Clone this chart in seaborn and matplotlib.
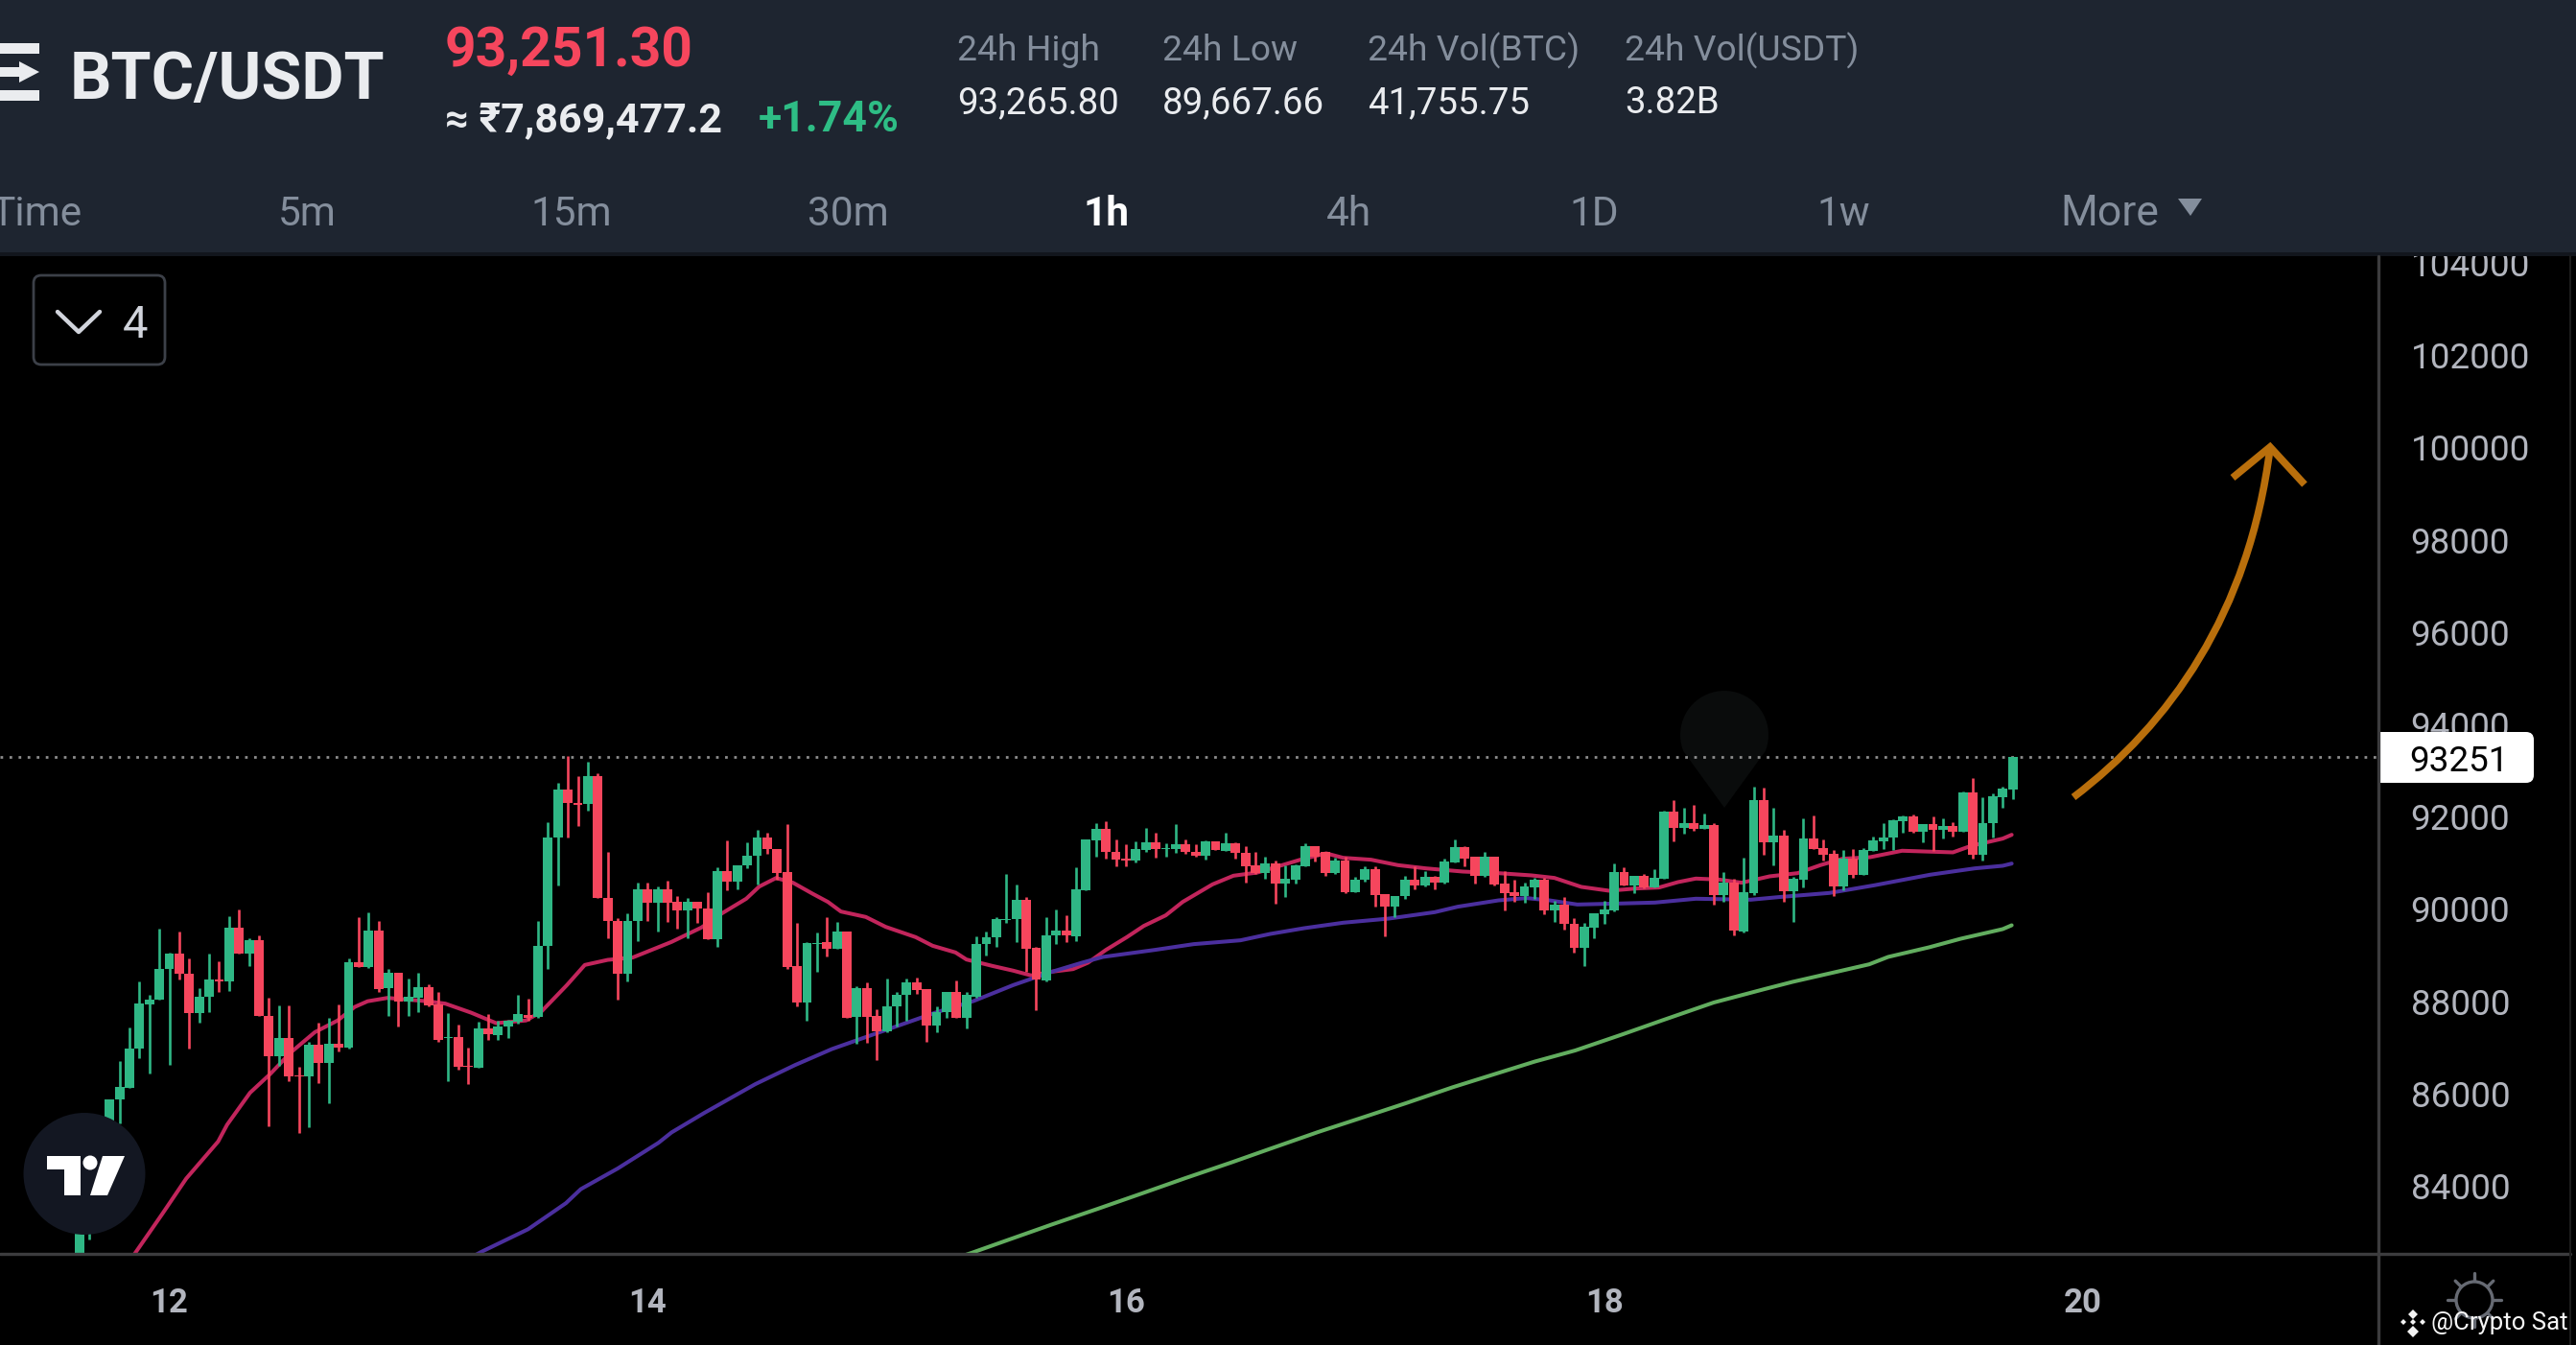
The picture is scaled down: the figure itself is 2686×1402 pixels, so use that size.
import numpy as np
import pandas as pd
import matplotlib
matplotlib.use("Agg")
import matplotlib.pyplot as plt
from matplotlib.patches import Ellipse, FancyBboxPatch, PathPatch, Polygon, Rectangle
from matplotlib.path import Path
from matplotlib.transforms import ScaledTranslation
import seaborn as sns

# ---------- data (USDT prices) ----------
open_ = [82300,82990,83580,84900,85837,86092,86931,87900,88002,88666,88994,88571,87704,88061,88440,88389,89555,88994,89293,87645,86785,87164,86362,86333,87018,86639,87040,86967,88812,88717,89497,88243,88593,87966,88039,88272,87893,87164,87186,86566,86523,87368,87237,87412,87529,87674,87631,89162,91509,92559,92267,92238,92850,90197,89701,88556,89716,90394,90109,90394,
90119,89938,90132,89966,89301,90777,90562,90922,91110,91505,91255,90756,88719,87936,89204,89245,89107,89467,87624,88248,87638,87312,87866,88095,88372,88227,87444,87728,88178,87610,88067,89197,89356,89724,89758,90160,89128,88421,89384,89495,89370,90375,91456,91699,91213,91054,91006,91241,91421,91262,91262,91366,91193,91123,91435,91227,91394,91186,90909,90742,90950,90521,90604,90895,91324,91193,90742,
91006,90327,90590,90826,90278,90015,90244,90590,90465,90659,90535,90978,91311,91089,90673,91103,90507,90327,90244,90437,90604,89939,90063,89634,89121,89564,89855,89925,90763,90479,90673,90431,90625,92073,91727,91817,91699,91782,90271,90535,89481,90313,92323,91401,91560,90354,90604,91491,91283,91158,90451,91054,90701,91228,91436,91519,91865,91962,91630,91796,91685,91754,91643,92489,91144,91824,92392,92558]
high = [83000,83700,84400,85100,86676,87405,88403,88112,89541,89030,89482,88899,88243,88994,88826,89810,89956,89322,89395,88039,87879,87879,86544,87091,87499,87601,87893,88885,89789,89891,89701,88666,88593,88462,88578,88330,88170,87718,87456,86967,87514,87696,87551,87572,88112,88024,89701,91852,92705,93288,92836,93164,92909,91210,89774,89876,90539,90539,90459,90576,
90243,90202,90132,90327,90860,91449,90922,91421,91678,91609,91255,91796,89661,89252,89460,89786,89675,89467,88282,88372,87790,88455,88178,88455,88483,88227,87866,88178,88414,88178,89370,89474,89786,90722,90493,90223,89148,89786,89952,89827,90860,91470,91837,91865,91463,91366,91435,91713,91609,91394,91796,91463,91366,91449,91435,91609,91414,91331,91193,91089,91019,90916,90936,91394,91324,91193,91068,
91089,90659,90895,90881,90278,90257,90687,90895,90777,90673,91054,91470,91338,91089,91200,91103,90777,90590,90535,90646,90632,90153,90223,89772,89661,89869,90133,90950,90867,90673,90729,90826,92087,92323,92156,92226,92032,91817,90763,90618,91075,92614,92600,92156,91671,90659,91921,91990,91463,91241,91241,91255,91283,91532,91824,91907,91990,92018,91796,91976,91921,91851,92503,92794,92378,92461,92627,93265]
low = [82300,82800,83300,84800,85327,86092,86727,86399,88002,86581,88447,86945,87492,87733,88170,88185,88994,88739,87638,85254,86566,86238,85108,85240,86187,85750,86872,86945,88717,88695,88170,87645,87412,87645,87733,87864,87077,86238,86479,86165,86523,87120,87120,87164,87477,87543,87602,88666,90466,91509,91771,92092,90197,89322,87995,88389,89278,89716,89482,89686,
89550,89342,89668,89301,89135,90361,90396,90853,90500,91158,90604,88663,87846,87541,88608,88940,89107,87603,87055,87069,86688,87291,87416,87554,88123,87083,87298,87610,87610,87374,88040,88954,89148,89668,89252,88594,87776,88400,89204,89245,89273,90375,91089,91054,90895,90881,90964,91193,91075,91089,91172,91158,91089,91047,91241,91227,91054,90534,90728,90631,90084,90216,90521,90881,90985,90687,90728,
90313,90327,90562,90015,89370,89793,90188,90396,90451,90396,90507,90978,90881,90521,90659,90479,89939,90119,90105,90174,89855,89689,89523,89024,88733,89329,89648,89911,90465,90313,90417,90431,90625,91436,91588,91657,91699,90063,90119,89398,89453,90271,91144,90916,90119,89689,90438,91255,91020,90244,90368,90645,90701,91214,91255,91241,91616,91616,91408,91228,91491,91533,91643,91061,91006,91505,92156,92350]
close = [82990,83580,84850,85837,86114,86945,87915,88002,88666,89001,88571,87704,88061,88440,88403,89555,88994,89293,87638,86785,87164,86348,86333,87018,86639,87040,86967,88812,88717,89497,88228,88593,87966,88061,88272,87879,87135,87186,86552,86537,87383,87252,87427,87543,87689,87601,89162,91523,92559,92253,92223,92850,90197,89701,88556,89716,90394,90109,90394,90109,
89932,90132,89966,89301,90777,90562,90922,91110,91505,91255,90742,88698,87929,89218,89238,89107,89467,87603,88261,87624,87312,87866,88109,88372,88213,87444,87728,88178,87610,88109,89197,89356,89751,89758,90160,89107,88442,89384,89495,89384,90389,91470,91699,91213,91040,91020,91255,91421,91255,91283,91366,91193,91123,91435,91241,91394,91172,90895,90742,90950,90521,90618,90909,91324,91089,90742,91019,
90327,90590,90826,90271,90015,90257,90590,90465,90659,90535,90992,91311,91061,90673,91089,90500,90306,90244,90451,90590,89939,90063,89634,89121,89578,89869,89953,90763,90479,90673,90431,90632,92073,91727,91817,91699,91782,90271,90535,89495,90327,92323,91401,91560,90354,90618,91491,91269,91144,90451,91054,90701,91241,91449,91519,91893,91976,91630,91796,91685,91754,91643,92489,91144,91837,92406,92572,93251]
hours = list(range(len(close)))

ma_red_h = [5.0,8.3,10.7,13.9,14.8,17.1,19.1,21.2,23.6,25.9,27.6,28.9,30.9,34.9,36.7,39.3,41.8,44.8,46.3,48.9,50.7,53.0,55.5,59.4,62.4,64.5,66.9,68.2,69.9,71.6,73.6,75.1,76.4,78.9,80.9,83.9,85.6,87.9,89.0,91.6,93.7,95.5,97.6,99.7,101.2,103.0,105.1,106.8,109.0,110.7,113.7,115.8,118.2,122.5,125.1,126.8,129.6,132.3,135.1,138.8,142.4,145.7,148.0,150.7,153.5,156.2,158.5,160.4,162.2,164.5,166.8,169.6,172.4,174.7,176.9,179.7,182.9,188.0,189.8,193.0,193.9]
ma_red_v = [82330,83359,84124,84926,85290,85983,86384,86858,87295,87550,87842,87966,88039,87966,87915,87718,87492,87550,87733,88316,88753,88863,88914,89252,89564,89876,90188,90451,90638,90534,90292,90119,89911,89793,89578,89356,89169,89024,88871,88732,88629,88525,88608,88663,88802,89079,89356,89599,89828,90119,90500,90687,90756,91033,91172,91075,91034,90916,90846,90777,90742,90694,90639,90445,90361,90410,90431,90548,90625,90604,90535,90673,90742,90916,91054,91089,91228,91193,91332,91491,91574]
ma_blue_h = [39.5,40.3,45.0,48.8,50.3,54.0,58.1,59.4,62.7,67.8,71.8,75.5,79.6,86.0,89.7,93.7,97.4,100.6,102.7,107.9,111.8,116.5,119.5,122.9,126.8,131.4,136.0,138.3,142.4,145.2,147.5,150.3,154.4,158.1,162.2,167.7,170.5,175.6,180.1,185.7,190.2,193.0,193.9]
ma_blue_v = [82440,82534,83025,83590,83895,84342,84900,85123,85548,86169,86584,86931,87243,87728,87970,88317,88594,88802,88927,89079,89204,89287,89426,89550,89668,89758,89897,90015,90153,90202,90153,90063,90084,90105,90188,90167,90223,90313,90479,90708,90846,90902,90950]
ma_green_h = [88.5,89.6,93.4,97.5,102.2,106.8,110.9,115.6,119.7,124.3,129.0,133.1,137.8,141.9,146.0,150.1,154.8,158.9,164.0,169.1,171.9,176.4,179.6,181.5,185.6,188.8,193.0,193.9]
ma_green_v = [82440,82520,82811,83123,83470,83816,84128,84474,84786,85133,85465,85757,86103,86380,86657,86900,87246,87558,87939,88230,88386,88608,88767,88927,89135,89322,89530,89613]

price_ticks = list(range(84000, 106000, 2000))
date_tick_hours = [9, 57, 105, 153, 201]
date_tick_labels = ["12", "14", "16", "18", "20"]
last_price = 93251

GREEN, RED = "#2fb785", "#f6465d"

# ---------- figure ----------
sns.set_theme(style="dark")
plt.rcParams["font.family"] = ["Roboto", "DejaVu Sans"]
W, H = 2686, 1402
fig = plt.figure(figsize=(W / 100, H / 100), dpi=100, facecolor="black")


def full_axes(z):
    a = fig.add_axes([0, 0, 1, 1], zorder=z)
    a.set_xlim(0, W)
    a.set_ylim(H, 0)
    a.axis("off")
    return a


under = full_axes(0)
ax = fig.add_axes([0, (H - 1307) / H, 2481 / W, (1307 - 265) / H], zorder=1)
over = full_axes(3)
ax.set_facecolor("none")

# faint marker bubble behind the candles
t = np.linspace(np.pi * 1.12, -np.pi * 0.12, 40)
bubble = [(1798 + 46 * np.cos(a), 766 - 46 * np.sin(a)) for a in t] + [(1798, 842)]
under.add_patch(Polygon(bubble, closed=True, fc="#0a0c0c", ec="none"))

# ---------- chart ----------
o, h, l, c = map(np.array, (open_, high, low, close))
colors = [GREEN if cc >= oo else RED for oo, cc in zip(o, c)]
for xs, ys, col, in [(ma_red_h, ma_red_v, "#c2255c"), (ma_blue_h, ma_blue_v, "#4b2f9e"), (ma_green_h, ma_green_v, "#62ad5f")]:
    df = pd.DataFrame({"hour": xs, "price": ys})
    sns.lineplot(data=df, x="hour", y="price", ax=ax, color=col, linewidth=2.9,
                 estimator=None, sort=False, legend=False, zorder=2)
ax.vlines(hours, l, h, colors=colors, linewidth=1.9, zorder=3)
ax.bar(hours, np.maximum(np.abs(c - o), 25), bottom=np.minimum(o, c), width=0.95,
       color=colors, linewidth=0, zorder=3)
ax.axhline(last_price, color="#8c8c8c", linewidth=2.0, linestyle=(0, (1, 2.4)), zorder=1)

ax.set_xlim(-7.99, 230.8)
ax.set_ylim(82492, 104155)
ax.set_xlabel("")
ax.set_ylabel("")
ax.grid(False)
for s in ax.spines.values():
    s.set_visible(False)
ax.yaxis.tick_right()
ax.set_yticks(price_ticks)
ax.set_yticklabels([str(p) for p in price_ticks])
ax.set_xticks(date_tick_hours)
ax.set_xticklabels(date_tick_labels, fontweight="bold")
ax.tick_params(axis="y", length=0, pad=23.5, labelsize=26.6, labelcolor="#b2b5be")
ax.tick_params(axis="x", length=0, pad=25, labelsize=25, labelcolor="#b2b5be")
shift = ScaledTranslation(0, -1.5 / 100, fig.dpi_scale_trans)
for lbl in ax.get_yticklabels():
    lbl.set_transform(lbl.get_transform() + shift)

# ---------- chrome ----------
over.add_patch(Rectangle((0, 0), W, 263, fc="#1e2530", ec="none"))
over.add_patch(Rectangle((0, 263), W, 4, fc="#12161d", ec="none"))
over.plot([2480, 2480], [267, H], color="#3c3c3e", lw=2.4)
over.plot([0, 2680], [1307, 1307], color="#3c3c3e", lw=2.4)
over.plot([2680, 2680], [267, H], color="#1c1c1c", lw=1.5)


def T(x, y, s, size, color, weight="normal", ha="left", **kw):
    over.text(x, y, s, fontsize=size, color=color, fontweight=weight, ha=ha, va="baseline", **kw)


# exchange icon
for yy in (45, 94):
    over.add_patch(Rectangle((0, yy), 41, 11, fc="#eaecef", ec="none"))
over.add_patch(Polygon([(0, 70), (20, 70), (20, 64), (41, 75), (20, 86), (20, 80), (0, 80)], fc="#eaecef", ec="none"))

T(73, 103, "BTC/USDT", 49, "#eaecef", "bold")
T(464, 69, "93,251.30", 41, "#f6465d", "bold")
T(464, 137, "≈ ₹7,869,477.2", 31, "#eaecef", "bold")
T(791, 137, "+1.74%", 32, "#2ebd85", "bold")
for x_, head, val in [(998, "24h High", "93,265.80"), (1212, "24h Low", "89,667.66"),
                      (1426, "24h Vol(BTC)", "41,755.75"), (1694, "24h Vol(USDT)", "3.82B")]:
    T(x_, 63, head, 26.8, "#848e9c")
    T(x_, 118, val, 27.6, "#eaecef")
for x_, s in [(320, "5m"), (596, "15m"), (884, "30m"), (1406, "4h"), (1662, "1D"), (1922, "1w")]:
    T(x_, 235, s, 30.5, "#848e9c", ha="center")
T(2200, 235, "More", 32, "#848e9c", ha="center")
T(39, 235, "Time", 30.5, "#848e9c", ha="center")
T(1154, 235, "1h", 30.5, "#ffffff", "bold", ha="center")
over.add_patch(Polygon([(2271, 207), (2296, 207), (2284, 225)], fc="#848e9c", ec="none"))

# collapse button
over.add_patch(FancyBboxPatch((35, 287), 137, 93, boxstyle="round,pad=0,rounding_size=8",
                              fc="black", ec="#3c4048", lw=2))
over.plot([60, 82, 104], [325, 346, 325], color="#d1d4dc", lw=3.2)
T(141, 352, "4", 34, "#d1d4dc", ha="center")

# TradingView badge
over.add_patch(Ellipse((88, 1223.5), 127, 127, fc="#131722", ec="none"))
over.add_patch(Polygon([(49, 1205), (84, 1205), (84, 1246), (67, 1246), (67, 1219), (49, 1219)], fc="white", ec="none"))
over.add_patch(Ellipse((94, 1212), 15, 15, fc="white", ec="none"))
over.add_patch(Polygon([(107, 1205), (130, 1205), (112, 1246), (94, 1246)], fc="white", ec="none"))

# price tag
over.add_patch(FancyBboxPatch((2485, 763), 157, 53, boxstyle="round,pad=0,rounding_size=8", fc="white", ec="none"))
over.add_patch(Rectangle((2481, 763), 20, 53, fc="white", ec="none"))
T(2564, 804, "93251", 26.6, "black", ha="center")

# hand-drawn arrow
over.add_patch(PathPatch(Path([(2162, 831), (2262, 755), (2345, 640), (2367, 467)],
                              [Path.MOVETO, Path.CURVE4, Path.CURVE4, Path.CURVE4]),
                         fc="none", ec="#b96f0c", lw=5.5, capstyle="butt"))
over.plot([2328, 2367, 2403], [498, 466, 505], color="#b96f0c", lw=5.5, solid_capstyle="butt", solid_joinstyle="miter")

# gear + watermark
over.add_patch(Ellipse((2580, 1355), 38, 38, fc="none", ec="#666a73", lw=2.4))
for ang in np.deg2rad([0, 45, 90, 135, 180, 225, 270, 315]):
    over.plot([2580 + 20 * np.cos(ang), 2580 + 28 * np.cos(ang)],
              [1355 + 20 * np.sin(ang), 1355 + 28 * np.sin(ang)], color="#666a73", lw=2.4)
for dx, dy, r in [(0, -8, 5), (-10, 0, 3), (10, 0, 3), (0, 0, 3), (0, 10, 6)]:
    cx, cy = 2516 + dx, 1378 + dy
    over.add_patch(Polygon([(cx, cy - r), (cx + r, cy), (cx, cy + r), (cx - r, cy)], fc="#f2f2f2", ec="none"))
T(2535, 1386, "@Crypto Sat", 18.5, "#f5f5f5")

fig.savefig("out.png", dpi=100, facecolor="black")
